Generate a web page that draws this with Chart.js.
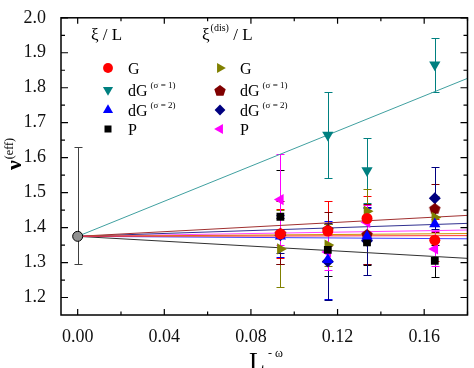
<!DOCTYPE html>
<html>
<head>
<meta charset="utf-8">
<script src="https://cdn.jsdelivr.net/npm/chart.js@4.4.1/dist/chart.umd.min.js"></script>
<style>
    html, body { margin: 0; padding: 0; background: #fff; }
    #wrap { width: 474px; height: 368px; }
</style>
</head>
<body>
<div id="wrap"><canvas id="nuchart"></canvas></div>
<script>
"use strict";

/* axis ticks */
const xTickValues = [0, 0.04, 0.08, 0.12, 0.16];
const yTickValues = [1.2, 1.3, 1.4, 1.5, 1.6, 1.7, 1.8, 1.9, 2.0];

/* L^-omega of the four lattice sizes */
const sizes = [0.0936, 0.1155, 0.1336, 0.1649];

/* xi / L */
const xiG = [1.382, 1.390, 1.426, 1.364];
const xiGErr = [0.07, 0.085, 0.063, 0.06];
const xiDG1 = [null, 1.665, 1.563, 1.866];
const xiDG1Err = [0, 0.122, 0.093, 0.077];
const xiDG2 = [1.375, 1.308, 1.375, 1.410];
const xiDG2Err = [0.06, 0.112, 0.08, 0.05];
const xiP = [1.431, 1.336, 1.358, 1.305];
const xiPErr = [0.135, 0.075, 0.065, 0.045];

/* xi(dis) / L */
const disG = [1.339, 1.350, 1.447, 1.429];
const disGErr = [0.11, 0.06, 0.063, 0.06];
const disDG1 = [1.385, 1.396, 1.382, 1.456];
const disDG1Err = [0.09, 0.05, 0.085, 0.07];
const disDG2 = [1.378, 1.303, 1.362, 1.484];
const disDG2Err = [0.05, 0.11, 0.098, 0.089];
const disP = [1.480, 1.330, 1.415, 1.339];
const disPErr = [0.13, 0.05, 0.05, 0.05];

/* extrapolated value (asymmetric error) and the fit slopes (same order as series below) */
const nuInf = 1.375;
const nuInfErrUp = 0.255;
const nuInfErrDown = 0.08;
const fitSlopes = [0.011, 2.51, -0.039, -0.35, 0.044, 0.333, 0.206, 0.10];

const xMin = -0.0077, xMax = 0.18;
const yMin = 1.15, yMax = 2.0;

const SERIF = "'Liberation Serif', 'DejaVu Serif', serif";

/* pentagon marker */
function pentagon(color, r) {
    var c = document.createElement('canvas');
    c.width = c.height = Math.ceil(r * 2 + 2);
    var g = c.getContext('2d');
    var m = c.width / 2;
    g.beginPath();
    for (var k = 0; k < 5; k++) {
        var a = -Math.PI / 2 + k * 2 * Math.PI / 5;
        g.lineTo(m + r * Math.cos(a), m + 1 + r * Math.sin(a));
    }
    g.closePath();
    g.fillStyle = color;
    g.fill();
    return c;
}

var series = [
    { group: 0, label: 'G', sup: '', values: xiG, errors: xiGErr, color: '#ff0000', style: 'circle', rot: 0, r: 5.5 },
    { group: 0, label: 'dG', sup: '(σ = 1)', values: xiDG1, errors: xiDG1Err, color: '#008080', style: 'triangle', rot: 180, r: 6.5 },
    { group: 0, label: 'dG', sup: '(σ = 2)', values: xiDG2, errors: xiDG2Err, color: '#0000ff', style: 'triangle', rot: 0, r: 6.5 },
    { group: 0, label: 'P', sup: '', values: xiP, errors: xiPErr, color: '#000000', style: 'rect', rot: 0, r: 5.5 },
    { group: 1, label: 'G', sup: '', values: disG, errors: disGErr, color: '#808000', style: 'triangle', rot: 90, r: 6.5 },
    { group: 1, label: 'dG', sup: '(σ = 1)', values: disDG1, errors: disDG1Err, color: '#800000', style: pentagon('#800000', 6), rot: 0, r: 5.5 },
    { group: 1, label: 'dG', sup: '(σ = 2)', values: disDG2, errors: disDG2Err, color: '#000080', style: 'rectRot', rot: 0, r: 6 },
    { group: 1, label: 'P', sup: '', values: disP, errors: disPErr, color: '#ff00ff', style: 'triangle', rot: -90, r: 6.5 }
];
var lineColors = ['#ff3030', '#40a0a0', '#4040ff', '#303030', '#d09000', '#a03030', '#303090', '#ff40ff'];

var datasets = [];
series.forEach(function (s, i) {
    datasets.push({
        type: 'line',
        label: 'fit ' + i,
        data: [{ x: 0, y: nuInf }, { x: xMax, y: nuInf + fitSlopes[i] * xMax }],
        borderColor: lineColors[i],
        borderWidth: 1,
        pointRadius: 0,
        fill: false,
        order: 3
    });
});
series.forEach(function (s) {
    datasets.push({
        type: 'scatter',
        label: s.label + s.sup,
        data: sizes.map(function (x, k) { return { x: x, y: s.values[k] }; }),
        errUp: s.errors,
        errDown: s.errors,
        backgroundColor: s.color,
        borderColor: s.color,
        borderWidth: 0,
        pointStyle: s.style,
        rotation: s.rot,
        pointRadius: s.r,
        order: 1
    });
});
datasets.push({
    type: 'scatter',
    label: 'L -> inf',
    data: [{ x: 0, y: nuInf }],
    errUp: [nuInfErrUp],
    errDown: [nuInfErrDown],
    backgroundColor: '#909090',
    borderColor: '#000000',
    borderWidth: 1,
    pointStyle: 'circle',
    pointRadius: 5,
    order: 0
});

function drawMarker(ctx, s, x, y) {
    if (typeof s.style !== 'string') {
        ctx.drawImage(s.style, x - s.style.width / 2, y - s.style.height / 2);
        return;
    }
    ctx.fillStyle = s.color;
    ctx.strokeStyle = s.color;
    Chart.helpers.drawPoint(ctx, { pointStyle: s.style, rotation: s.rot, radius: s.r * 0.9, borderWidth: 0 }, x, y);
}

var decorations = {
    id: 'decorations',
    beforeDatasetsDraw: function (chart) {
        var ctx = chart.ctx, xs = chart.scales.x, ys = chart.scales.y;
        chart.data.datasets.forEach(function (ds) {
            if (!ds.errUp) return;
            ctx.save();
            ctx.strokeStyle = ds.borderWidth ? '#404040' : ds.borderColor;
            ctx.lineWidth = 1;
            ds.data.forEach(function (p, i) {
                var eu = ds.errUp[i], ed = ds.errDown[i];
                if (p.y == null || !eu) return;
                var px = Math.round(xs.getPixelForValue(p.x)) + 0.5;
                var top = Math.round(ys.getPixelForValue(p.y + eu)) + 0.5;
                var bot = Math.round(ys.getPixelForValue(p.y - ed)) + 0.5;
                ctx.beginPath();
                ctx.moveTo(px, top); ctx.lineTo(px, bot);
                ctx.moveTo(px - 4, top); ctx.lineTo(px + 4, top);
                ctx.moveTo(px - 4, bot); ctx.lineTo(px + 4, bot);
                ctx.stroke();
            });
            ctx.restore();
        });
    },
    afterDraw: function (chart) {
        var ctx = chart.ctx, a = chart.chartArea, xs = chart.scales.x, ys = chart.scales.y;
        ctx.save();
        /* frame */
        ctx.strokeStyle = '#000';
        ctx.lineWidth = 1.5;
        ctx.strokeRect(a.left, a.top, a.right - a.left, a.bottom - a.top);
        /* inward ticks on all four sides */
        ctx.lineWidth = 1.2;
        ctx.beginPath();
        for (var i = 0; i <= 9; i++) {
            var v = i * 0.02;
            var px = xs.getPixelForValue(v);
            var len = (i % 2 === 0) ? 6 : 3.5;
            ctx.moveTo(px, a.bottom); ctx.lineTo(px, a.bottom - len);
            ctx.moveTo(px, a.top); ctx.lineTo(px, a.top + len);
        }
        for (var j = 0; j <= 16; j++) {
            var w = 1.2 + j * 0.05;
            var py = ys.getPixelForValue(w);
            var ln = (j % 2 === 0) ? 7 : 4;
            ctx.moveTo(a.left, py); ctx.lineTo(a.left + ln, py);
            ctx.moveTo(a.right, py); ctx.lineTo(a.right - ln, py);
        }
        ctx.stroke();

        /* legend */
        ctx.fillStyle = '#000';
        ctx.textBaseline = 'alphabetic';
        ctx.font = '17px ' + SERIF;
        ctx.fillText('ξ / L', 91, 40);
        ctx.fillText('ξ', 202, 40);
        var wXi = ctx.measureText('ξ').width;
        ctx.font = '10px ' + SERIF;
        ctx.fillText('(dis)', 202 + wXi + 1, 31);
        var wDis = ctx.measureText('(dis)').width;
        ctx.font = '17px ' + SERIF;
        ctx.fillText(' / L', 202 + wXi + wDis + 1, 40);

        var rowsY = [68, 90, 110, 129];
        var colMark = [108, 220], colText = [128, 240];
        series.forEach(function (s, k) {
            var row = k % 4, y = rowsY[row];
            drawMarker(ctx, s, colMark[s.group], y);
            ctx.fillStyle = '#000';
            ctx.font = '16px ' + SERIF;
            ctx.fillText(s.label, colText[s.group], y + 6);
            if (s.sup) {
                var lw = ctx.measureText(s.label).width;
                ctx.font = '9px ' + SERIF;
                ctx.fillText(s.sup, colText[s.group] + lw + 3, y - 2);
            }
        });

        /* axis titles */
        ctx.fillStyle = '#000';
        ctx.save();
        ctx.translate(21, 170);
        ctx.rotate(-Math.PI / 2);
        ctx.font = 'bold 22px ' + SERIF;
        ctx.fillText('ν', 0, 0);
        var wNu = ctx.measureText('ν').width;
        ctx.font = '12px ' + SERIF;
        ctx.fillText('(eff)', wNu + 1, -8);
        ctx.restore();

        ctx.font = '26px ' + SERIF;
        ctx.fillText('L', 249, 370);
        ctx.font = '12px ' + SERIF;
        ctx.fillText('- ω', 268, 357);
        ctx.restore();
    }
};

var ctxNu = document.getElementById('nuchart').getContext('2d');
var nuChart = new Chart(ctxNu, {
    data: { datasets: datasets },
    options: {
        animation: false,
        responsive: true,
        maintainAspectRatio: false,
        layout: { padding: { top: 10, right: 1, left: 0, bottom: 0 } },
        plugins: {
            legend: { display: false },
            tooltip: { enabled: false }
        },
        scales: {
            x: {
                type: 'linear',
                min: xMin,
                max: xMax,
                afterBuildTicks: function (scale) {
                    scale.ticks = xTickValues.map(function (v) { return { value: v }; });
                },
                afterFit: function (scale) { scale.height = 53; },
                grid: { display: false },
                border: { display: false },
                ticks: {
                    color: '#111',
                    padding: 3,
                    maxRotation: 0,
                    font: { family: SERIF, size: 18 },
                    callback: function (v) { return v.toFixed(2); }
                }
            },
            y: {
                type: 'linear',
                min: yMin,
                max: yMax,
                afterBuildTicks: function (scale) {
                    scale.ticks = yTickValues.map(function (v) { return { value: v }; });
                },
                afterFit: function (scale) { scale.width = 61; },
                grid: { display: false },
                border: { display: false },
                ticks: {
                    color: '#111',
                    padding: 7,
                    font: { family: SERIF, size: 18 },
                    callback: function (v) { return v.toFixed(1); }
                }
            }
        }
    },
    plugins: [decorations]
});
</script>
</body>
</html>
